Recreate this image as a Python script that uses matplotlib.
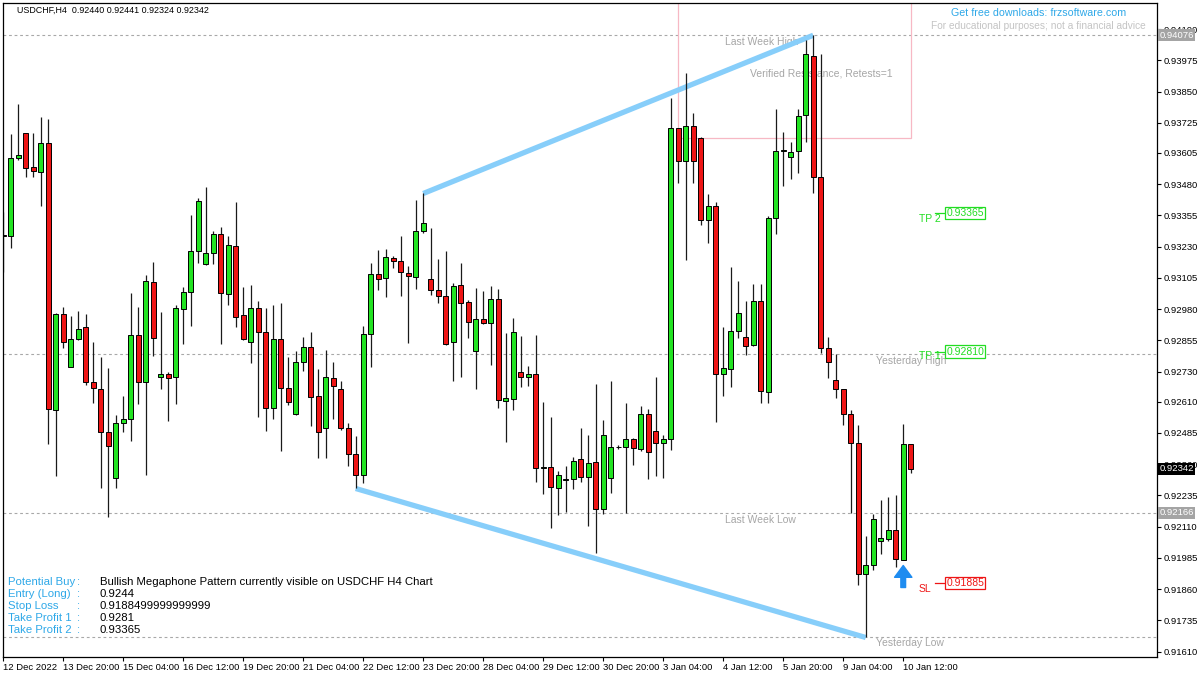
import matplotlib
matplotlib.use('Agg')
import matplotlib.pyplot as plt
import matplotlib.transforms as mtransforms
from matplotlib.patches import Rectangle
import numpy as np

plt.rcParams['font.family'] = ['Liberation Sans', 'DejaVu Sans']

# ---------------- data (USDCHF H4) ----------------
opens = [0.93277, 0.93273, 0.93586, 0.93683, 0.93547, 0.93530, 0.93646, 0.92577, 0.92959, 0.92750,
         0.92860, 0.92907, 0.92689, 0.92659, 0.92490, 0.92306, 0.92523, 0.92539, 0.92877, 0.92689,
         0.93087, 0.92710, 0.92721, 0.92707, 0.92981, 0.93049, 0.93214, 0.93161, 0.93204, 0.93280,
         0.93042, 0.93234, 0.92957, 0.92850, 0.92986, 0.92887, 0.92583, 0.92861, 0.92663, 0.92561,
         0.92770, 0.92827, 0.92633, 0.92503, 0.92703, 0.92659, 0.92503, 0.92399, 0.92317, 0.92879,
         0.93119, 0.93106, 0.93186, 0.93173, 0.93123, 0.93110, 0.93293, 0.93099, 0.93057, 0.93034,
         0.92850, 0.93077, 0.93007, 0.92813, 0.92941, 0.92926, 0.93019, 0.92614, 0.92621, 0.92730,
         0.92707, 0.92721, 0.92343, 0.92347, 0.92263, 0.92297, 0.92300, 0.92380, 0.92310, 0.92367,
         0.92180, 0.92303, 0.92427, 0.92430, 0.92461, 0.92421, 0.92561, 0.92493, 0.92446, 0.92459,
         0.93703, 0.93574, 0.93713, 0.93663, 0.93337, 0.93394, 0.92720, 0.92741, 0.92893, 0.92870,
         0.92837, 0.93013, 0.92647, 0.93346, 0.93614, 0.93587, 0.93614, 0.93757, 0.93994, 0.93510,
         0.92823, 0.92697, 0.92659, 0.92561, 0.92444, 0.91920, 0.91957, 0.92054, 0.92061, 0.92097,
         0.91977, 0.92440]
highs = [0.93370, 0.93681, 0.93801, 0.93686, 0.93683, 0.93750, 0.93739, 0.92963, 0.92990, 0.92953,
         0.92973, 0.92959, 0.92847, 0.92787, 0.92743, 0.92555, 0.92633, 0.93043, 0.92987, 0.93117,
         0.93170, 0.92970, 0.92730, 0.92997, 0.93070, 0.93357, 0.93426, 0.93470, 0.93293, 0.93310,
         0.93274, 0.93407, 0.93070, 0.93077, 0.93013, 0.92983, 0.92997, 0.93003, 0.92787, 0.92814,
         0.92870, 0.92890, 0.92739, 0.92817, 0.92767, 0.92693, 0.92523, 0.92473, 0.92914, 0.93166,
         0.93217, 0.93219, 0.93193, 0.93273, 0.93154, 0.93417, 0.93443, 0.93303, 0.93181, 0.93214,
         0.93083, 0.93163, 0.93017, 0.93063, 0.93054, 0.93073, 0.93060, 0.92883, 0.92946, 0.92873,
         0.92753, 0.92877, 0.92607, 0.92547, 0.92334, 0.92353, 0.92387, 0.92504, 0.92477, 0.92680,
         0.92537, 0.92693, 0.92435, 0.92603, 0.92466, 0.92593, 0.92581, 0.92707, 0.92477, 0.93826,
         0.93705, 0.93923, 0.93763, 0.93667, 0.93441, 0.93410, 0.92910, 0.93147, 0.93094, 0.93013,
         0.93080, 0.93080, 0.93353, 0.93781, 0.93687, 0.93647, 0.93781, 0.94057, 0.94076, 0.93999,
         0.92867, 0.92800, 0.92662, 0.92577, 0.92517, 0.92073, 0.92161, 0.92217, 0.92230, 0.92237,
         0.92520, 0.92441]
lows = [0.93130, 0.93226, 0.93577, 0.93507, 0.93510, 0.93394, 0.92441, 0.92314, 0.92823, 0.92748,
        0.92857, 0.92675, 0.92603, 0.92263, 0.92150, 0.92263, 0.92490, 0.92453, 0.92600, 0.92317,
        0.92794, 0.92659, 0.92534, 0.92600, 0.92841, 0.92914, 0.93164, 0.93158, 0.93161, 0.92840,
        0.92997, 0.92910, 0.92857, 0.92763, 0.92550, 0.92494, 0.92540, 0.92414, 0.92597, 0.92558,
        0.92734, 0.92513, 0.92386, 0.92386, 0.92541, 0.92497, 0.92354, 0.92263, 0.92283, 0.92750,
        0.93057, 0.93027, 0.93143, 0.93034, 0.92843, 0.93059, 0.93283, 0.93037, 0.93003, 0.92835,
        0.92694, 0.92710, 0.92863, 0.92659, 0.92920, 0.92757, 0.92583, 0.92447, 0.92577, 0.92670,
        0.92674, 0.92287, 0.92239, 0.92103, 0.92157, 0.92167, 0.92261, 0.92290, 0.92113, 0.92003,
        0.92161, 0.92243, 0.92420, 0.92166, 0.92357, 0.92414, 0.92301, 0.92314, 0.92306, 0.92417,
        0.93486, 0.93177, 0.93483, 0.93317, 0.93246, 0.92530, 0.92633, 0.92667, 0.92863, 0.92797,
        0.92833, 0.92606, 0.92603, 0.93281, 0.93474, 0.93499, 0.93523, 0.93647, 0.93446, 0.92806,
        0.92703, 0.92623, 0.92517, 0.92164, 0.91877, 0.91667, 0.91937, 0.91999, 0.92054, 0.91950,
        0.91975, 0.92324]
closes = [0.93271, 0.93586, 0.93597, 0.93543, 0.93533, 0.93646, 0.92579, 0.92959, 0.92847, 0.92862,
          0.92902, 0.92689, 0.92663, 0.92490, 0.92434, 0.92523, 0.92539, 0.92877, 0.92689, 0.93094,
          0.92863, 0.92719, 0.92703, 0.92986, 0.93049, 0.93214, 0.93413, 0.93204, 0.93280, 0.93046,
          0.93237, 0.92950, 0.92861, 0.92986, 0.92890, 0.92583, 0.92861, 0.92663, 0.92610, 0.92770,
          0.92827, 0.92630, 0.92490, 0.92707, 0.92674, 0.92503, 0.92399, 0.92317, 0.92879, 0.93119,
          0.93099, 0.93190, 0.93173, 0.93127, 0.93114, 0.93293, 0.93326, 0.93057, 0.93034, 0.92839,
          0.93073, 0.93003, 0.92930, 0.92941, 0.92923, 0.93019, 0.92617, 0.92626, 0.92887, 0.92707,
          0.92721, 0.92343, 0.92347, 0.92270, 0.92317, 0.92300, 0.92374, 0.92310, 0.92363, 0.92181,
          0.92477, 0.92427, 0.92430, 0.92461, 0.92423, 0.92560, 0.92410, 0.92446, 0.92461, 0.93706,
          0.93574, 0.93713, 0.93574, 0.93337, 0.93394, 0.92720, 0.92744, 0.92893, 0.92963, 0.92833,
          0.93014, 0.92654, 0.93346, 0.93614, 0.93617, 0.93610, 0.93754, 0.94001, 0.93510, 0.92823,
          0.92770, 0.92659, 0.92561, 0.92444, 0.91921, 0.91957, 0.92141, 0.92066, 0.92097, 0.91980,
          0.92440, 0.92342]

date_ticks = [0, 8, 16, 24, 32, 40, 48, 56, 64, 72, 80, 88, 96, 104, 112, 120]
date_labels = ["12 Dec 2022", "13 Dec 20:00", "15 Dec 04:00", "16 Dec 12:00", "19 Dec 20:00",
               "21 Dec 04:00", "22 Dec 12:00", "23 Dec 20:00", "28 Dec 04:00", "29 Dec 12:00",
               "30 Dec 20:00", "3 Jan 04:00", "4 Jan 12:00", "5 Jan 20:00", "9 Jan 04:00",
               "10 Jan 12:00"]
price_ticks = [0.94100, 0.93975, 0.93850, 0.93725, 0.93605, 0.93480, 0.93355, 0.93230, 0.93105,
               0.92980, 0.92855, 0.92730, 0.92610, 0.92485, 0.92360, 0.92235, 0.92110, 0.91985,
               0.91860, 0.91735, 0.91610]

last_week_high = 0.94076
last_week_low = 0.92166
yesterday_high = 0.92800
yesterday_low = 0.91669
current_price = 0.92342
tp1, tp2, sl = 0.92810, 0.93365, 0.91885
resistance_low = 0.93665
mega_upper = [(56, 0.93443), (108, 0.94076)]
mega_lower = [(47, 0.92263), (115, 0.91667)]
signal_bar = 120

info_labels = ["Potential Buy", "Entry (Long)", "Stop Loss", "Take Profit 1", "Take Profit 2"]
info_values = ["Bullish Megaphone Pattern currently visible on USDCHF H4 Chart", "0.9244",
               "0.9188499999999999", "0.9281", "0.93365"]

GREEN = '#22E322'
RED = '#EE1515'
BLUE_TXT = '#2EA8E8'
GRAY_TXT = '#A6A6A6'
TP_GREEN = '#22DD22'

# ---------------- figure ----------------
W, H = 1200, 675
fig = plt.figure(figsize=(12, 6.75), dpi=100)
ax = fig.add_axes([3 / W, 18 / H, 1154 / W, 654 / H])
ax.set_facecolor('white')
ax.set_xlim(-0.03, -0.03 + 1154 / 7.5)
ax.set_ylim(0.91589, 0.94205)

o = np.array(opens); h = np.array(highs); l = np.array(lows); c = np.array(closes)
idx = np.arange(len(o))
up = c >= o

# dashed reference lines
for lvl in [last_week_high, yesterday_high, last_week_low, yesterday_low]:
    ax.axhline(lvl, color='#A8A8A8', lw=0.8, dashes=(2.5, 2.5), zorder=1)

# resistance zone
ax.add_patch(Rectangle((90, resistance_low), 31, 0.01, fill=False, ec='#F7B8C4', lw=0.9, zorder=1))

# megaphone lines
for pts in (mega_upper, mega_lower):
    xs = [p[0] for p in pts]; ys = [p[1] for p in pts]
    ax.plot(xs, ys, color='#87CEFA', lw=3.8, solid_capstyle='butt', zorder=1.5)

# candles
ax.vlines(idx, l, h, color='#1A1A1A', lw=0.9, zorder=2)
bb = np.minimum(o, c)
bh = np.maximum(np.abs(c - o), 0.00001)
ax.bar(idx[up], bh[up], bottom=bb[up], width=0.62, color=GREEN, edgecolor='black', linewidth=0.7, zorder=3)
ax.bar(idx[~up], bh[~up], bottom=bb[~up], width=0.62, color=RED, edgecolor='black', linewidth=0.7, zorder=3)

# level captions
def dy(px):
    return px * 0.00004

ax.text(96.3, last_week_high - dy(6.5), "Last Week High", color=GRAY_TXT, fontsize=7.5, va='center', ha='left', zorder=1.2)
ax.text(99.6, last_week_high - dy(38.5), "Verified Resistance, Retests=1", color=GRAY_TXT, fontsize=7.5, va='center', ha='left', zorder=1.2)
ax.text(96.3, last_week_low - dy(6.8), "Last Week Low", color=GRAY_TXT, fontsize=7.5, va='center', ha='left')
ax.text(116.4, yesterday_high - dy(6.8), "Yesterday High", color=GRAY_TXT, fontsize=7.5, va='center', ha='left')
ax.text(116.4, yesterday_low - dy(6.5), "Yesterday Low", color=GRAY_TXT, fontsize=7.5, va='center', ha='left')

# TP / SL markers
for name, lvl, col, off in [("TP 2", tp2, TP_GREEN, 6.0), ("TP 1", tp1, TP_GREEN, 4.0), ("SL", sl, RED, 6.0)]:
    ax.text(122.05, lvl - dy(off), name, color=col, fontsize=7.5, va='center', ha='left', zorder=6)
    ax.plot([124.2, 125.45], [lvl, lvl], color=col, lw=0.9, zorder=6)
    ax.text(125.75, lvl, f"{lvl:.5f}", color=col, fontsize=7.5, va='center', ha='left', zorder=6,
            bbox=dict(boxstyle='square,pad=0.12', fc='white', ec=col, lw=0.9))

# buy arrow
ax.annotate('', xy=(signal_bar, lows[signal_bar] - dy(5)), xytext=(signal_bar, lows[signal_bar] - dy(27)),
            arrowprops=dict(facecolor='#1E8CF0', edgecolor='#1E8CF0', width=3.4, headwidth=12.5,
                            headlength=8.5, shrink=0), zorder=7)

# axes styling
for sp in ax.spines.values():
    sp.set_color('black'); sp.set_linewidth(0.9)
ax.yaxis.tick_right()
ax.set_yticks(price_ticks)
ax.set_yticklabels([f"{v:.5f}" for v in price_ticks])
ax.tick_params(axis='y', direction='out', length=3, width=0.8, pad=1.5, labelsize=6.8, colors='black')
ax.set_xticks(date_ticks)
ax.set_xticklabels(date_labels)
ax.tick_params(axis='x', direction='out', length=3, width=0.8, pad=1.2, labelsize=6.8, colors='black')
for lbl in ax.get_xticklabels():
    lbl.set_ha('left')

# right-axis price boxes
tr = mtransforms.blended_transform_factory(ax.transAxes, ax.transData)
for lvl, fc in [(last_week_high, '#A4A4A4'), (last_week_low, '#A4A4A4'), (current_price, 'black')]:
    ax.text(1.0 + 2.5 / 1154, lvl, f"{lvl:.5f}", transform=tr, color='white', fontsize=6.8,
            va='center', ha='left', clip_on=False, zorder=10,
            bbox=dict(boxstyle='square,pad=0.15', fc=fc, ec='none'))

# header texts
fig.text(17 / W, 1 - 10 / H, "USDCHF,H4  0.92440 0.92441 0.92324 0.92342", fontsize=6.4,
         va='center', ha='left', color='black')
fig.text(1039 / W, 1 - 12.7 / H, "Get free downloads: frzsoftware.com", fontsize=7.7,
         va='center', ha='center', color=BLUE_TXT)
fig.text(1038.5 / W, 1 - 26 / H, "For educational purposes; not a financial advice", fontsize=7.25,
         va='center', ha='center', color='#C4C4C4')

# info block
for i, (lab, val) in enumerate(zip(info_labels, info_values)):
    yy = 1 - (581.7 + 12.0 * i) / H
    fig.text(8 / W, yy, lab, fontsize=8.2, color=BLUE_TXT, va='center', ha='left')
    fig.text(76.5 / W, yy, ":", fontsize=8.2, color=BLUE_TXT, va='center', ha='left')
    fig.text(100 / W, yy, val, fontsize=8.2, color='black', va='center', ha='left')

fig.savefig('out.png', dpi=100, facecolor='white')
